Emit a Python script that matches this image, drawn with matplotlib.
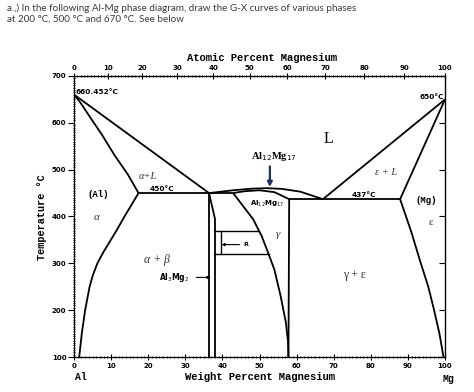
import numpy as np
import matplotlib
matplotlib.use("Agg")
import matplotlib.pyplot as plt
from matplotlib.ticker import MultipleLocator

# ---------------- data (wt% Mg, temperature degC) ----------------
liq_al_wt = [0.0, 36.4]
liq_al_T = [660.452, 450]

sol_al_wt = [0.0, 2.0, 4.5, 7.5, 11.0, 14.5, 17.4]
sol_al_T = [660.452, 640, 610, 575, 530, 490, 450]

solvus_al_wt = [17.4, 13.6, 11.6, 10.0, 8.0, 6.3, 5.1, 4.2, 3.6, 3.0, 2.1, 1.4]
solvus_al_T = [450, 400, 372, 351, 325, 300, 275, 250, 225, 200, 150, 100]

eut450_wt = [17.4, 42.9]
eut450_T = [450, 450]

beta_left_wt = [36.4, 36.4]
beta_left_T = [450, 100]
beta_right_wt = [36.4, 38.0, 38.0]
beta_right_T = [450, 395, 100]

dome_liq_wt = [36.4, 42.9, 48.0, 52.0, 56.0, 61.0, 67.1]
dome_liq_T = [450, 456, 459.5, 460.5, 459, 453, 437]

dome_sol_wt = [42.9, 46.0, 50.0, 54.0, 58.0]
dome_sol_T = [450, 454, 456, 452, 437]

gamma_left_wt = [42.9, 45.6, 48.3, 50.6, 52.3, 54.0, 55.7, 57.1, 57.7, 57.8]
gamma_left_T = [450, 422, 394, 358, 323, 287, 230, 174, 132, 100]

gamma_right_wt = [58.0, 57.8]
gamma_right_T = [437, 100]

eut437_wt = [58.0, 87.9]
eut437_T = [437, 437]

liq_mg_wt = [67.1, 100.0]
liq_mg_T = [437, 650]

sol_mg_wt = [87.9, 100.0]
sol_mg_T = [437, 650]

solvus_mg_wt = [87.9, 89.5, 91.0, 93.4, 95.5, 97.0, 98.5, 99.6]
solvus_mg_T = [437, 400, 365, 302, 250, 202, 150, 100]

r_top_T = 370
r_bot_T = 319
r_left_wt = 38.0
r_inner_wt = 39.6

x_ticks = list(range(0, 101, 10))
y_ticks = list(range(100, 701, 100))
at_ticks = list(range(0, 101, 10))

header = ("a.,) In the following Al-Mg phase diagram, draw the G-X curves of various phases\n"
          "at 200 \u00b0C, 500 \u00b0C and 670 \u00b0C. See below")

# ---------------- figure ----------------
W, H = 474, 392
fig = plt.figure(figsize=(W / 100, H / 100), dpi=100)
ax = fig.add_axes([74 / W, 1 - 357 / H, (445 - 74) / W, (357 - 76) / H])
ax.set_xlim(0, 100)
ax.set_ylim(100, 700)

lc = "black"
lw = 1.3
for xs, ys in [(liq_al_wt, liq_al_T), (sol_al_wt, sol_al_T), (solvus_al_wt, solvus_al_T),
               (eut450_wt, eut450_T), (beta_left_wt, beta_left_T), (beta_right_wt, beta_right_T),
               (dome_liq_wt, dome_liq_T), (dome_sol_wt, dome_sol_T),
               (gamma_left_wt, gamma_left_T), (gamma_right_wt, gamma_right_T),
               (eut437_wt, eut437_T), (liq_mg_wt, liq_mg_T), (sol_mg_wt, sol_mg_T),
               (solvus_mg_wt, solvus_mg_T)]:
    ax.plot(xs, ys, color=lc, lw=lw, solid_capstyle="butt", solid_joinstyle="round")

# R region box
g_T = np.array(gamma_left_T[::-1])
g_w = np.array(gamma_left_wt[::-1])
top_end = np.interp(r_top_T, g_T, g_w)
bot_end = np.interp(r_bot_T, g_T, g_w)
ax.plot([r_left_wt, top_end], [r_top_T, r_top_T], color=lc, lw=1.0)
ax.plot([r_left_wt, bot_end], [r_bot_T, r_bot_T], color=lc, lw=1.0)
ax.plot([r_inner_wt, r_inner_wt], [r_bot_T, r_top_T], color=lc, lw=1.0)

# ticks
ax.set_xticks(x_ticks)
ax.set_yticks(y_ticks)
ax.xaxis.set_minor_locator(MultipleLocator(1))
ax.yaxis.set_minor_locator(MultipleLocator(5))
ax.tick_params(axis="x", which="major", direction="inout", length=5, width=0.8,
               labelsize=5, pad=1.5)
ax.tick_params(axis="y", which="major", direction="out", length=4, width=0.8,
               labelsize=5, pad=1.5)
ax.tick_params(axis="both", which="minor", direction="inout", length=2, width=0.6)
for lab in ax.get_xticklabels() + ax.get_yticklabels():
    lab.set_fontweight("bold")
for sp in ax.spines.values():
    sp.set_linewidth(0.9)

right = ax.secondary_yaxis("right")
right.set_yticks(y_ticks)
right.tick_params(direction="in", length=4, width=0.8, labelright=False)


def wt2at(w):
    w = np.asarray(w, dtype=float)
    a = w / 24.305
    b = (100 - w) / 26.982
    with np.errstate(divide="ignore", invalid="ignore"):
        return 100 * a / (a + b)


def at2wt(a):
    a = np.asarray(a, dtype=float)
    m = a * 24.305
    n = (100 - a) * 26.982
    with np.errstate(divide="ignore", invalid="ignore"):
        return 100 * m / (m + n)


top = ax.secondary_xaxis("top", functions=(wt2at, at2wt))
top.set_xticks(at_ticks)
top.xaxis.set_minor_locator(MultipleLocator(1))
top.tick_params(which="major", direction="inout", length=5, width=0.8, labelsize=5, pad=1.0)
top.tick_params(which="minor", direction="inout", length=2, width=0.6)
for lab in top.get_xticklabels():
    lab.set_fontweight("bold")

# ---------------- labels in data coords ----------------
serif = ["Liberation Serif", "DejaVu Serif"]
mono = ["Liberation Mono", "DejaVu Sans Mono"]
ax.text(0.5, 666, "660.452\u00b0C", fontsize=5.3, fontweight="bold", ha="left", va="center")
ax.text(99.6, 655, "650\u00b0C", fontsize=5.3, fontweight="bold", ha="right", va="center")
ax.text(23.7, 452, "450\u00b0C", fontsize=5.3, fontweight="bold", ha="center", va="bottom")
ax.text(78.2, 440, "437\u00b0C", fontsize=5.3, fontweight="bold", ha="center", va="bottom")
ax.text(68.5, 566, "L", fontsize=11.5, family=serif, ha="center", va="center")
ax.text(53.9, 528, "Al$_{12}$Mg$_{17}$", fontsize=7.5, family=serif, fontweight="bold",
        ha="center", va="center")
ax.annotate("", xy=(52.8, 463), xytext=(52.8, 507),
            arrowprops=dict(arrowstyle="-|>", color="#1b3566", lw=1.6,
                            mutation_scale=7, shrinkA=0, shrinkB=0))
ax.text(19.9, 485, "\u03b1+L", fontsize=7.5, family=serif, style="italic", color="#333333",
        ha="center", va="center")
ax.text(6.5, 447, "(Al)", fontsize=6.5, family=mono, fontweight="bold", ha="center", va="center")
ax.text(6.2, 398, "\u03b1", fontsize=8, family=serif, style="italic", color="#333333",
        ha="center", va="center")
ax.text(84.1, 494, "\u03b5 + L", fontsize=7.5, family=serif, style="italic", color="#333333",
        ha="center", va="center")
ax.text(94.9, 434, "(Mg)", fontsize=6.5, family=mono, fontweight="bold", ha="center", va="center")
ax.text(96.2, 387, "\u03b5", fontsize=8, family=serif, color="#333333", ha="center", va="center")
ax.text(52.0, 426, "Al$_{12}$Mg$_{17}$", fontsize=5, fontweight="bold", ha="center", va="center")
ax.text(55.0, 362, "\u03b3", fontsize=8, family=serif, style="italic", color="#333333",
        ha="center", va="center")
ax.text(46.4, 340, "R", fontsize=4.5, fontweight="bold", ha="center", va="center")
ax.annotate("", xy=(39.8, 340), xytext=(44.6, 340),
            arrowprops=dict(arrowstyle="-|>", color="black", lw=0.8,
                            mutation_scale=4, shrinkA=0, shrinkB=0))
ax.text(22.4, 308, "\u03b1 + \u03b2", fontsize=8.5, family=serif, style="italic", color="#333333",
        ha="center", va="center")
ax.text(27.0, 270, "Al$_3$Mg$_2$", fontsize=5.5, fontweight="bold", ha="center", va="center")
ax.annotate("", xy=(36.8, 270), xytext=(33.0, 270),
            arrowprops=dict(arrowstyle="-|>", color="black", lw=0.8,
                            mutation_scale=4, shrinkA=0, shrinkB=0))
ax.text(75.5, 276, "\u03b3 + \u03b5", fontsize=8.5, family=serif, color="#333333",
        ha="center", va="center")

# ---------------- figure-level text ----------------
fig.text(7 / W, 1 - 3 / H, header, fontsize=7.1, family="Lato", color="#3a3a3a",
         ha="left", va="top", linespacing=1.35)
fig.text(262 / W, 1 - 58 / H, "Atomic Percent Magnesium", fontsize=7.6, family=mono,
         fontweight="bold", ha="center", va="center")
fig.text(260 / W, 1 - 377 / H, "Weight Percent Magnesium", fontsize=7.6, family=mono,
         fontweight="bold", ha="center", va="center")
fig.text(42 / W, 1 - 217 / H, "Temperature \u00b0C", fontsize=7.3, family=mono,
         fontweight="bold", rotation=90, ha="center", va="center")
fig.text(81 / W, 1 - 377 / H, "Al", fontsize=7, family=mono, fontweight="bold",
         ha="center", va="center")
fig.text(448 / W, 1 - 379 / H, "Mg", fontsize=7, family=mono, fontweight="bold",
         ha="center", va="center")

fig.savefig("out.png", dpi=100)
